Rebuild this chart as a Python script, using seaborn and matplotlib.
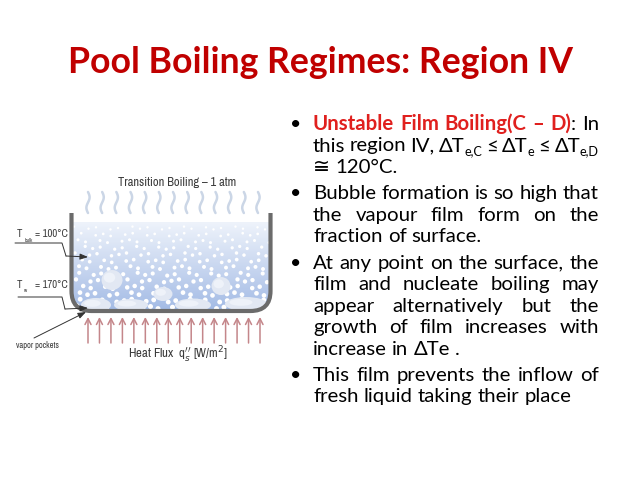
import numpy as np
import pandas as pd
import matplotlib
matplotlib.use("Agg")
import matplotlib.pyplot as plt
from matplotlib import font_manager
from matplotlib.path import Path
from matplotlib.patches import PathPatch, Ellipse
from matplotlib.colors import LinearSegmentedColormap
import seaborn as sns

# ---- slide text ----
title_text = "Pool Boiling Regimes: Region IV"
# words split by space, pieces inside a word split by "|"
# "!" = red bold heading piece, "_" = subscript piece
para_1 = ["!Unstable !Film !Boiling(C !– !D)|: In",
          "this region IV, ΔT|_e,C ≤ ΔT|_e ≤ ΔT|_e,D",
          "≅ 120°C."]
para_2 = ["Bubble formation is so high that",
          "the vapour film form on the",
          "fraction of surface."]
para_3 = ["At any point on the surface, the",
          "film and nucleate boiling may",
          "appear alternatively but the",
          "growth of film increases with",
          "increase in ΔTe ."]
para_4 = ["This film prevents the inflow of",
          "fresh liquid taking their place"]
paragraphs = [para_1, para_2, para_3, para_4]

# ---- illustration labels ----
caption_top = "Transition Boiling – 1 atm"
temp_labels = [("bulk", "= 100°C"), ("w", "= 170°C")]
label_pockets = "vapor pockets"
label_flux = r"Heat Flux  q$_s^{\prime\prime}$ [W/m$^2$]"
n_heat_arrows = 16
n_steam = 13

TITLE_RED = "#C00000"
HEAD_RED = "#E0201E"
TEXT_COL = "#000000"
LABEL_COL = "#3a3a3a"

sns.set_theme(style="white")
plt.rcParams['font.family'] = ['Lato', 'DejaVu Sans']

# a narrow face for the drawing labels, if one is installed
names = sorted({f.name for f in font_manager.fontManager.ttflist})
narrow_faces = [n for n in names if 'Narrow' in n or 'Condensed' in n]
narrow = narrow_faces[0] if narrow_faces else 'DejaVu Sans'
NARROW = dict(family=[narrow, 'DejaVu Sans'], fontstretch='condensed')

fig = plt.figure(figsize=(6.38, 4.78), dpi=100, facecolor='white')
ax = fig.add_axes([0, 0, 1, 1])
ax.set_xlim(0, 638)
ax.set_ylim(478, 0)
ax.axis('off')
renderer = fig.canvas.get_renderer()


def text_width(s, **kw):
    t = ax.text(0, 0, s, **kw)
    w = t.get_window_extent(renderer).width
    t.remove()
    return w


def fit_text(x, y, s, width, **kw):
    t = ax.text(x, y, s, fontsize=10, **kw)
    w = t.get_window_extent(renderer).width
    t.set_fontsize(10 * width / w)
    return t


# ---- title ----
fit_text(320, 73, title_text, 506, ha='center', va='baseline',
         color=TITLE_RED, fontweight='bold')


# ---- bullets (justified) ----
def parse_line(line):
    words = []
    for w in line.split(' '):
        pieces = []
        for p in w.split('|'):
            if p.startswith('!'):
                pieces.append((p[1:], 'h'))
            elif p.startswith('_'):
                pieces.append((p[1:], 's'))
            else:
                pieces.append((p, 'n'))
        words.append(pieces)
    return words


def style(kind, size):
    if kind == 'h':
        return dict(color=HEAD_RED, fontweight='bold', fontsize=size)
    if kind == 's':
        return dict(color=TEXT_COL, fontsize=size * 0.62)
    return dict(color=TEXT_COL, fontsize=size)


def word_width(word, size):
    return sum(text_width(t, **style(k, size)) for t, k in word)


X_LEFT, X_RIGHT = 313, 599
BODY = 12.0
BODY = BODY * 260 / text_width(para_4[-1], fontsize=BODY)
space_w = text_width("a a", fontsize=BODY) - text_width("aa", fontsize=BODY)

# make sure no justified line is wider than the column
widest = 0
for para in paragraphs:
    for line in para[:-1]:
        ws = parse_line(line)
        widest = max(widest, sum(word_width(w, BODY) for w in ws) + space_w * 0.8 * (len(ws) - 1))
if widest > X_RIGHT - X_LEFT:
    k = (X_RIGHT - X_LEFT) / widest
    BODY *= k
    space_w *= k

y = 130
for para in paragraphs:
    ax.text(290, y, "•", fontsize=BODY * 0.95, color=TEXT_COL, va='baseline', ha='left')
    for li, line in enumerate(para):
        words = parse_line(line)
        widths = [word_width(w, BODY) for w in words]
        last = li == len(para) - 1
        if last or len(words) < 2:
            gap = space_w
        else:
            gap = (X_RIGHT - X_LEFT - sum(widths)) / (len(words) - 1)
        x = X_LEFT
        for w, ww in zip(words, widths):
            xx = x
            for t, k in w:
                dy = 4 if k == 's' else 0
                ax.text(xx, y + dy, t, va='baseline', ha='left', **style(k, BODY))
                xx += text_width(t, **style(k, BODY))
            x += ww + gap
        y += 21.5
    y += 4.8

# ---- illustration: pot of boiling water ----
L, R, TOP, WATER, BOT, RAD = 71.5, 270.5, 213, 222, 311, 20
M, LN, C3 = Path.MOVETO, Path.LINETO, Path.CURVE3
pot_codes = [M, LN, C3, C3, LN, C3, C3, LN]


def pot_verts(top):
    return [(L, top), (L, BOT - RAD), (L, BOT), (L + RAD, BOT),
            (R - RAD, BOT), (R, BOT), (R, BOT - RAD), (R, top)]


water_patch = PathPatch(Path(pot_verts(WATER) + [(L, WATER)], pot_codes + [Path.CLOSEPOLY]),
                        facecolor='none', edgecolor='none')
ax.add_patch(water_patch)

water_cmap = LinearSegmentedColormap.from_list('water', ['#eef3fb', '#c9d7f0', '#a3bbe5'])
grad = np.linspace(0, 1, 120)[:, None]
im = ax.imshow(grad, extent=(L, R, BOT, WATER), cmap=water_cmap, aspect='auto',
               origin='upper', zorder=1)
im.set_clip_path(water_patch)
ax.set_xlim(0, 638)
ax.set_ylim(478, 0)

# small rising bubbles
rows = []
for i, by in enumerate(np.arange(228, 308, 6.6)):
    off = 5.2 if i % 2 else 0
    for j, bx in enumerate(np.arange(77 + off, 268, 10.5)):
        jit = ((i * 37 + j * 11) % 7 - 3) * 1.0
        rows.append({'x': bx + jit, 'y': by + ((i * 5 + j * 3) % 5 - 2) * 0.7,
                     'd': 1.5 + 2.4 * (by - 228) / 80})
bubbles = pd.DataFrame(rows)
sns.scatterplot(data=bubbles, x='x', y='y', size='d', sizes=(3.0, 13), color='white',
                edgecolor='none', legend=False, ax=ax, zorder=2)
ax.collections[-1].set_clip_path(water_patch)

# vapour blobs (bottom film pieces and detached pockets)
blobs = [(96, 305, 30, 14), (131, 305, 34, 12), (193, 305, 36, 13), (246, 304, 42, 14),
         (112, 280, 21, 20), (163, 294, 19, 14), (221, 286, 19, 18)]
for cx, cy, w, h in blobs:
    e = Ellipse((cx, cy), w, h, facecolor='#e2e8f3', edgecolor='none', zorder=3)
    ax.add_patch(e)
    e.set_clip_path(water_patch)
    e2 = Ellipse((cx - w * 0.12, cy - h * 0.12), w * 0.55, h * 0.5,
                 facecolor='#eef2f9', edgecolor='none', zorder=3)
    ax.add_patch(e2)
    e2.set_clip_path(water_patch)

ax.add_patch(PathPatch(Path(pot_verts(TOP), pot_codes), facecolor='none',
                       edgecolor='#6b6b6b', lw=3.0, zorder=4, capstyle='butt'))

# steam wisps
sy = np.linspace(192, 213, 40)
for sx in np.linspace(88, 258, n_steam):
    ax.plot(sx + 1.6 * np.sin((sy - 192) / 21 * 2 * np.pi), sy,
            color='#cbd6e6', lw=1.8, solid_capstyle='round', zorder=2)

# heat flux arrows
for hx in np.linspace(88, 260, n_heat_arrows):
    ax.annotate('', xy=(hx, 317), xytext=(hx, 343),
                arrowprops=dict(arrowstyle='->,head_length=0.35,head_width=0.18',
                                color='#c4868a', lw=1.1, shrinkA=0, shrinkB=0))

# labels and pointer lines
fit_text(177, 182, caption_top, 118, ha='center', va='center', color=LABEL_COL, **NARROW)
fit_text(178, 355, label_flux, 100, ha='center', va='center', color=LABEL_COL, **NARROW)
for (sub, rest), ly in zip(temp_labels, [237, 288]):
    t2 = fit_text(35, ly, rest, 33, ha='left', va='baseline', color=LABEL_COL, **NARROW)
    ax.text(17, ly, "T", fontsize=t2.get_fontsize(), ha='left', va='baseline',
            color=LABEL_COL, **NARROW)
    ax.text(24.5, ly + 4.5, sub, fontsize=t2.get_fontsize() * 0.5, ha='left', va='baseline',
            color=LABEL_COL, **NARROW)
fit_text(16, 345, label_pockets, 43, ha='left', va='center', color=LABEL_COL, **NARROW)

pointers = [[(15, 243), (62, 243), (66, 256), (88, 257)],
            [(18, 297), (62, 297), (65, 309), (88, 308)],
            [(34, 338), (86, 312)]]
arrow_kw = dict(arrowstyle='-|>,head_length=0.4,head_width=0.15', color='#333333',
                lw=0.7, shrinkA=0, shrinkB=0)
for pts in pointers:
    xs, ys = zip(*pts)
    ax.plot(xs[:-1], ys[:-1], color='#333333', lw=0.7, zorder=5)
    ax.annotate('', xy=pts[-1], xytext=pts[-2], arrowprops=arrow_kw, zorder=5)

fig.savefig('out.png', dpi=100, facecolor='white')
